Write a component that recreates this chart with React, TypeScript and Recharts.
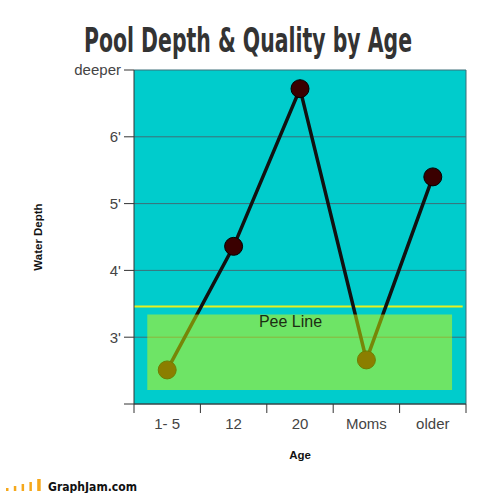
import React from 'react';
import {
  LineChart, Line, XAxis, YAxis, CartesianGrid, ReferenceArea, ReferenceLine,
} from 'recharts';

const ages = ['1- 5', '12', '20', 'Moms', 'older'];
const depthFeet = [2.51, 4.36, 6.72, 2.66, 5.4];
const depthTicks = [2, 3, 4, 5, 6, 7];
const peeLevel = 3.46;
const peeZone = { x1: 0.2, x2: 4.79, y1: 2.21, y2: 3.34 };
const logoBars = [3, 5, 7, 9, 12];

const data = ages.map((age, i) => ({ pos: i + 0.5, age, depth: depthFeet[i] }));
const xTicks = ages.flatMap((_, i) => [i, i + 0.5]).concat(ages.length);

const FONT = "'Liberation Sans', Arial, sans-serif";
const GRID = '#3d6f78';

const depthLabel = (v: number) => {
  if (v === depthTicks[depthTicks.length - 1]) return 'deeper';
  if (v === depthTicks[0]) return '';
  return `${v}'`;
};

const AgeTick = (props: any) => {
  const { x, y, payload } = props;
  const v = payload.value as number;
  if (Number.isInteger(v)) {
    return <line x1={x} x2={x} y1={y} y2={y + 9} stroke="#333" strokeWidth={1} />;
  }
  return (
    <text x={x} y={y + 25} textAnchor="middle" fill="#444" fontSize={15} fontFamily={FONT}>
      {ages[Math.floor(v)]}
    </text>
  );
};

const PeeLabel = (props: any) => {
  const vb = props.viewBox;
  return (
    <text x={vb.x + vb.width * 0.47} y={vb.y + 13} textAnchor="middle" fill="#1c2e12" fontSize={16} fontFamily={FONT}>
      Pee Line
    </text>
  );
};

const AgeTitle = (props: any) => {
  const vb = props.viewBox;
  return (
    <text x={vb.x + vb.width / 2} y={vb.y + 55} textAnchor="middle" fill="#111" fontSize={11.5} fontWeight="bold" fontFamily={FONT}>
      Age
    </text>
  );
};

const DepthTitle = (props: any) => {
  const vb = props.viewBox;
  const x = vb.x + 18;
  const y = vb.y + vb.height / 2;
  return (
    <text x={x} y={y} textAnchor="middle" transform={`rotate(-90 ${x} ${y})`} fill="#111" fontSize={11.5} fontWeight="bold" fontFamily={FONT}>
      Water Depth
    </text>
  );
};

export default function App() {
  return (
    <div style={{ position: 'absolute', left: 0, top: 0, width: 500, height: 493, background: '#fff' }}>
      <svg width={500} height={70} style={{ position: 'absolute', left: 0, top: 0 }}>
        <text x={84} y={52} textLength={328} lengthAdjust="spacingAndGlyphs" fontSize={33} fontWeight="bold"
          fontFamily="'Liberation Sans Narrow', 'DejaVu Sans Condensed', sans-serif" fill="#333">
          Pool Depth &amp; Quality by Age
        </text>
      </svg>
      <LineChart width={500} height={493} data={data} margin={{ top: 70, right: 34, left: 24, bottom: 39 }}>
        <CartesianGrid vertical={false} stroke={GRID} fill="#00CCCC" fillOpacity={1} />
        <XAxis
          dataKey="pos"
          type="number"
          domain={[0, ages.length]}
          ticks={xTicks}
          interval={0}
          tick={<AgeTick />}
          tickLine={false}
          tickSize={0}
          tickMargin={0}
          height={50}
          axisLine={{ stroke: '#333' }}
          label={<AgeTitle />}
        />
        <YAxis
          type="number"
          domain={[2, 7]}
          ticks={depthTicks}
          interval={0}
          tickFormatter={depthLabel}
          tickSize={10}
          tickMargin={3}
          width={110}
          tick={{ fill: '#444', fontSize: 15, fontFamily: FONT }}
          tickLine={{ stroke: '#333' }}
          axisLine={{ stroke: '#333' }}
          label={<DepthTitle />}
        />
        <ReferenceLine x={ages.length} stroke={GRID} />
        <ReferenceLine
          segment={[{ x: 0, y: peeLevel }, { x: ages.length - 0.05, y: peeLevel }]}
          stroke="#e6f020"
          strokeWidth={2}
        />
        <Line
          type="linear"
          dataKey="depth"
          stroke="#111"
          strokeWidth={3.5}
          dot={{ r: 9, fill: '#3a0000', stroke: '#000', strokeWidth: 1 }}
          isAnimationActive={false}
        />
        <ReferenceArea
          x1={peeZone.x1}
          x2={peeZone.x2}
          y1={peeZone.y1}
          y2={peeZone.y2}
          fill="#dcfc00"
          fillOpacity={0.5}
          stroke="none"
          zIndex={2000}
          label={<PeeLabel />}
        />
      </LineChart>
      <svg width={200} height={20} style={{ position: 'absolute', left: 0, top: 473 }}>
        {logoBars.map((h, i) => (
          <rect key={i} x={6 + i * 7.8} y={18 - h} width={i === logoBars.length - 1 ? 3.5 : 2.5} height={h} fill="#f5a81c" />
        ))}
        <text x={48} y={18} fontSize={12.5} fontWeight="bold" textLength={89} lengthAdjust="spacingAndGlyphs"
          fontFamily="'DejaVu Sans', sans-serif" fill="#111">
          GraphJam.com
        </text>
      </svg>
    </div>
  );
}
